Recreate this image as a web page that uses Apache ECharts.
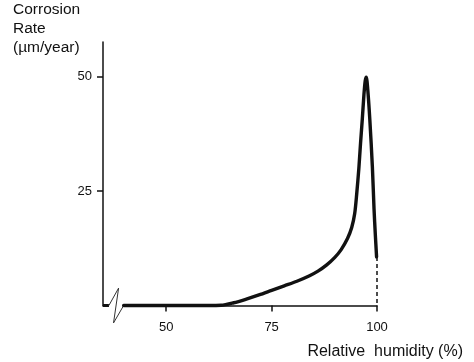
<!DOCTYPE html>
<html>
<head>
<meta charset="utf-8">
<script src="https://cdn.jsdelivr.net/npm/echarts@6/dist/echarts.min.js"></script>
<style>html,body{margin:0;padding:0;background:#fff;}#c{width:474px;height:362px;}</style>
</head>
<body>
<div id="c"></div>
<script>
// Data (x: relative humidity %, y: corrosion rate µm/year)
const xTicks = [50, 75, 100];
const yTicks = [25, 50];
const leadIn = [[35, 0], [36.4, 0]];
const breakGap = [[36.4, 0], [39.9, 0]];
const breakZigzag = [[36.4, 0], [38.7, 3.8], [37.5, -3.8], [39.9, 0]];
const corrosion = [
  [39.9, 0], [50, 0], [60, 0], [63, 0.05], [66, 0.6], [69, 1.4], [72, 2.3], [75, 3.3],
  [78, 4.3], [81, 5.3], [84, 6.5], [86, 7.5], [88, 8.8], [90, 10.5], [91.5, 12.2],
  [93, 14.6], [94, 17.0], [94.7, 20.0], [95.2, 24.5], [95.7, 30.0], [96.1, 35.5],
  [96.5, 40.5], [96.9, 46.0], [97.2, 49.0], [97.45, 49.8], [97.8, 47.2], [98.3, 40.5],
  [98.9, 30.3], [99.3, 21.0], [99.6, 15.5], [99.9, 10.6]
];
const extrapolated = [[100, 10.6], [100, 0]];

const ink = '#111';
const font = 'Liberation Sans, Arial, sans-serif';
const chart = echarts.init(document.getElementById('c'), null, {renderer: 'canvas'});
chart.setOption({
  animation: false,
  backgroundColor: '#fff',
  title: [
    {text: 'Corrosion\nRate\n(\u00b5m/year)', left: 13, top: 0, padding: 0,
     textStyle: {fontFamily: font, fontSize: 15.5, fontWeight: 'normal', color: ink, lineHeight: 19}},
    {text: 'Relative  humidity (%)', right: 11, top: 344, padding: 0,
     textStyle: {fontFamily: font, fontSize: 16, fontWeight: 'normal', color: ink}}
  ],
  grid: {left: 103, right: 97, top: 42, bottom: 56.5, containLabel: false},
  xAxis: {
    type: 'value', min: 35, max: 100,
    axisLine: {show: true, lineStyle: {color: ink, width: 1.5}},
    axisTick: {show: true, customValues: xTicks, length: 6, lineStyle: {color: ink, width: 1.5}},
    axisLabel: {customValues: xTicks, margin: 15, fontFamily: font, fontSize: 13, color: ink},
    splitLine: {show: false}
  },
  yAxis: {
    type: 'value', min: 0, max: 57.5,
    axisLine: {show: true, lineStyle: {color: ink, width: 1.5}},
    axisTick: {show: true, customValues: yTicks, length: 6, lineStyle: {color: ink, width: 1.5}},
    axisLabel: {customValues: yTicks, margin: 11, fontFamily: font, fontSize: 13, color: ink},
    splitLine: {show: false}
  },
  series: [
    {type: 'line', data: breakGap, symbol: 'none', clip: false, z: 3,
     lineStyle: {color: '#fff', width: 4}},
    {type: 'line', data: leadIn, symbol: 'none', z: 4,
     lineStyle: {color: ink, width: 3}},
    {type: 'line', data: breakZigzag, symbol: 'none', clip: false, z: 4,
     lineStyle: {color: '#333', width: 1}},
    {type: 'line', data: corrosion, symbol: 'none', smooth: 0.3, clip: false, z: 5,
     lineStyle: {color: ink, width: 3.4, cap: 'round', join: 'round'}},
    {type: 'line', data: extrapolated, symbol: 'none', z: 5,
     lineStyle: {color: ink, width: 1.5, type: [4, 3]}}
  ]
});
</script>
</body>
</html>
